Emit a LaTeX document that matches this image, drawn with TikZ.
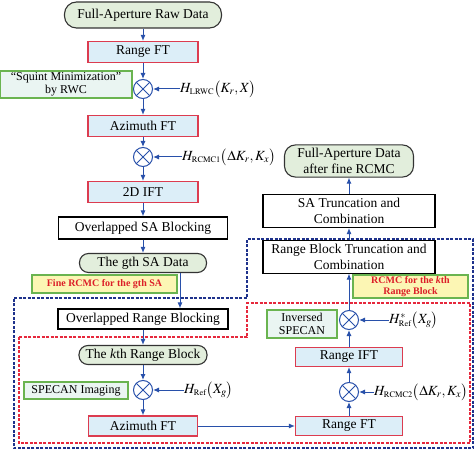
\documentclass[tikz,border=0pt]{standalone}
\usepackage{mathptmx}
\usepackage{fontspec}
\setmainfont{Liberation Serif}
\usepackage{tikz}
\usetikzlibrary{calc,positioning,arrows.meta}
\definecolor{boxred}{HTML}{DC3C50}
\definecolor{boxblue}{HTML}{DCEEF8}
\definecolor{termgreen}{HTML}{E2EEDC}
\definecolor{notegreen}{HTML}{6AB450}
\definecolor{notefill}{HTML}{EAF5F2}
\definecolor{tagyellow}{HTML}{FCF6B4}
\definecolor{tagred}{HTML}{DC1E28}
\definecolor{arrowblue}{HTML}{2850AA}
\definecolor{dashblue}{HTML}{1E328C}
\definecolor{dashred}{HTML}{E6283C}
\tikzstyle{ptr}   = [draw, -{Latex[length=6pt,width=5pt]}, arrowblue, line width=1pt]
\tikzstyle{proc}  = [rectangle, draw=boxred, fill=boxblue, line width=1.1pt, minimum height=21pt,
                     text centered, font=\fontsize{13.5}{16}\selectfont]
\tikzstyle{plain} = [rectangle, draw=black, fill=white, line width=1.1pt, minimum height=22pt,
                     text centered, align=center, font=\fontsize{13.5}{16}\selectfont]
\tikzstyle{term}  = [rectangle, rounded corners=9pt, draw=black!80, fill=termgreen, line width=1.1pt,
                     text centered, align=center, font=\fontsize{13.5}{16}\selectfont]
\tikzstyle{note}  = [rectangle, draw=notegreen, fill=notefill, line width=1.1pt, inner sep=1pt,
                     align=center, font=\fontsize{12}{13}\selectfont]
\tikzstyle{tag}   = [rectangle, draw=notegreen, fill=tagyellow, line width=1.1pt, inner sep=0.5pt,
                     text=tagred, align=center, font=\fontsize{10}{11}\selectfont\bfseries]
\tikzstyle{mult}  = [circle, draw=arrowblue, line width=1pt, minimum size=19pt, inner sep=0pt,
                     path picture={\draw[arrowblue, line width=1pt]
                       (path picture bounding box.north west) -- (path picture bounding box.south east)
                       (path picture bounding box.north east) -- (path picture bounding box.south west);}]
\tikzstyle{lab}   = [inner sep=0pt, font=\fontsize{14}{16}\selectfont]
\tikzstyle{zone}  = [line width=2pt, dash pattern=on 3pt off 1.5pt]
\newcommand{\sub}[1]{{\scriptscriptstyle\mathrm{#1}}}

\begin{document}
\begin{tikzpicture}[x=1pt, y=-1pt, node distance=36pt]
		\useasboundingbox (0,0) rectangle (474,449);

		% dashed blocks
		\draw[zone, dashblue] (14,298) -- (247,298) -- (247,239) -- (473,239) -- (473,448) -- (14,448) -- cycle;
		\draw[zone, dashred] (19,337) -- (247,337) -- (247,303) -- (470,303) -- (470,443) -- (19,443) -- cycle;

		% left column
		\node[term, minimum width=157pt, minimum height=26pt, rounded corners=12pt] (raw) at (143,15) {Full-Aperture Raw Data};
		\node[proc, below of=raw, node distance=37pt, minimum width=110pt] (rft) {Range FT};
		\node[mult, below of=rft, node distance=37pt] (m1) {};
		\node[proc, below of=m1, node distance=37pt, minimum width=110pt] (aft) {Azimuth FT};
		\node[mult, below of=aft, node distance=31pt] (m2) {};
		\node[proc, below of=m2, node distance=35pt, minimum width=110pt] (ift) {2D IFT};
		\node[plain, below of=ift, node distance=36pt, minimum width=169pt] (osab) {Overlapped SA Blocking};
		\node[term, below of=osab, node distance=35pt, minimum width=127pt, minimum height=19pt] (gsa) {The gth SA Data};
		\node[plain, below of=gsa, node distance=56pt, minimum width=170pt, minimum height=20pt] (orb) {Overlapped Range Blocking};
		\node[term, below of=orb, node distance=36pt, minimum width=128pt, minimum height=19pt] (krb) {The \textit{k}th Range Block};
		\node[mult, below of=krb, node distance=35pt] (m3) {};
		\node[proc, below of=m3, node distance=36pt, minimum width=109pt, minimum height=20pt] (aft2) {Azimuth FT};

		% right column
		\node[proc, minimum width=107pt, minimum height=19pt] (rft2) at (349,426) {Range FT};
		\node[mult, above of=rft2, node distance=34pt] (m5) {};
		\node[proc, above of=m5, node distance=35pt, minimum width=107pt, minimum height=19pt] (rift) {Range IFT};
		\node[mult, above of=rift, node distance=37pt] (m4) {};
		\node[plain, above of=m4, node distance=63pt, minimum width=172pt, minimum height=31pt] (rbt) {Range Block Truncation and\\Combination};
		\node[plain, above of=rbt, node distance=46pt, minimum width=172pt, minimum height=33pt] (sat) {SA Truncation and\\Combination};
		\node[term, above of=sat, node distance=50pt, minimum width=129pt, minimum height=32pt, rounded corners=11pt] (full) {Full-Aperture Data\\after fine RCMC};

		% side notes
		\node[note, minimum width=132pt, minimum height=27pt] (squint) at (66,84.5) {``Squint Minimization''\\by RWC};
		\node[tag, minimum width=145pt, minimum height=18pt] (fineg) at (104.5,284) {Fine RCMC for the gth SA};
		\node[note, minimum width=104pt, minimum height=17pt] (specan) at (76,390.5) {SPECAN Imaging};
		\node[tag, minimum width=115pt, minimum height=23pt] (finek) at (410.5,286.5) {RCMC for the \textit{k}th\\Range Block};
		\node[note, minimum width=70pt, minimum height=28pt] (ispecan) at (302,324) {Inversed\\SPECAN};

		% filter labels
		\node[lab, right=27pt of m1] (h1) {$H_{\sub{LRWC}}\bigl(K_r,X\bigr)$};
		\node[lab, right=29pt of m2] (h2) {$H_{\sub{RCMC1}}\bigl(\Delta K_r,K_x\bigr)$};
		\node[lab, right=31pt of m3] (h3) {$H_{\sub{Ref}}\bigl(X_g\bigr)$};
		\node[lab, right=30pt of m4] (h4) {$H^{*}_{\sub{Ref}}\bigl(X_g\bigr)$};
		\node[lab, right=15pt of m5] (h5) {$H_{\sub{RCMC2}}\bigl(\Delta K_r,K_x\bigr)$};

		\path[ptr] (raw) -- (rft);
		\path[ptr] (rft) -- (m1);
		\path[ptr] (m1) -- (aft);
		\path[ptr] (aft) -- (m2);
		\path[ptr] (m2) -- (ift);
		\path[ptr] (ift) -- (osab);
		\path[ptr] (osab) -- (gsa);
		\path[ptr] ([xshift=37pt]gsa.south) -- ([xshift=37pt]gsa.south |- orb.north);
		\path[ptr] (orb) -- (krb);
		\path[ptr] (krb) -- (m3);
		\path[ptr] (m3) -- (aft2);
		\path[ptr] (aft2) -- (rft2);
		\path[ptr] (rft2) -- (m5);
		\path[ptr] (m5) -- (rift);
		\path[ptr] (rift) -- (m4);
		\path[ptr] (m4) -- (rbt);
		\path[ptr] (rbt) -- (sat);
		\path[ptr] (sat) -- (full);

		\path[ptr] (h1.west) -- (m1);
		\path[ptr] (h2.west) -- (m2);
		\path[ptr] (h3.west) -- (m3);
		\path[ptr] (h4.west) -- (m4);
		\path[ptr] (h5.west) -- (m5);
	\end{tikzpicture}
\end{document}
